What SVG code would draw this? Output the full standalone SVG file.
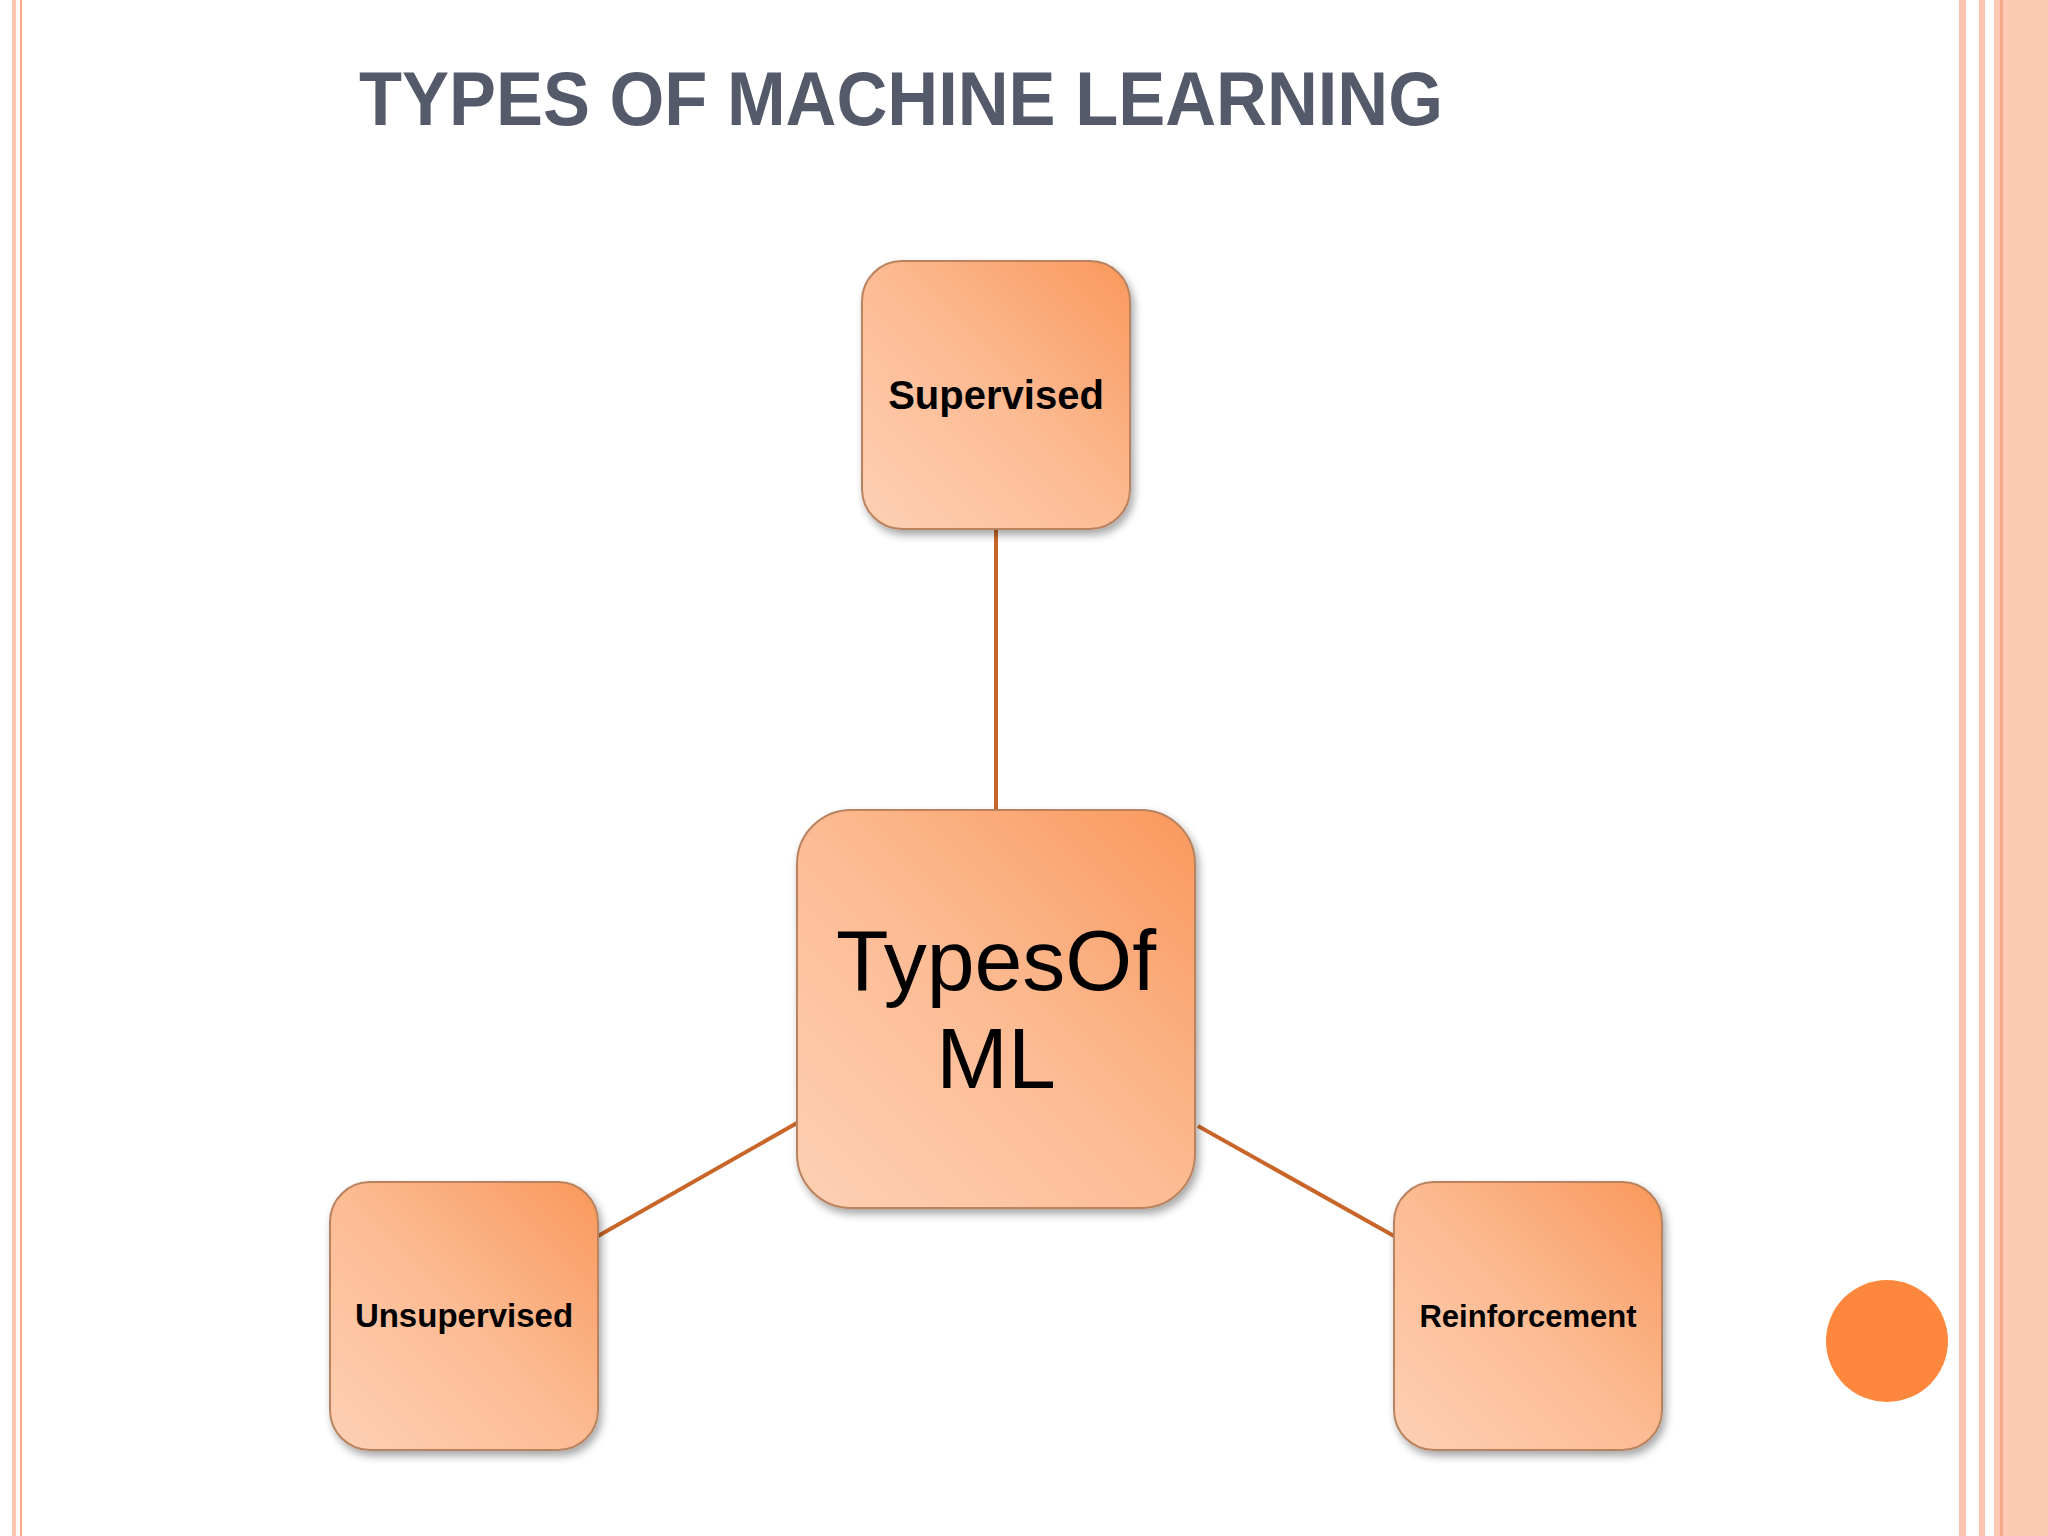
<svg xmlns="http://www.w3.org/2000/svg" width="2048" height="1536" viewBox="0 0 2048 1536">
<style>
.box{fill:url(#g);stroke:#b9835f;stroke-width:2;filter:url(#sh)}
.lbl{font-family:"Liberation Sans",Arial,sans-serif;font-weight:bold;fill:#000;text-anchor:middle}
.conn{stroke:#c8662a;stroke-width:4;fill:none}
</style>
<defs>
<linearGradient id="g" x1="0" y1="1" x2="1" y2="0">
<stop offset="0" stop-color="#fed0b4"/><stop offset="0.5" stop-color="#fcbb93"/><stop offset="1" stop-color="#f9985c"/>
</linearGradient>
<filter id="sh" x="-10%" y="-10%" width="125%" height="125%"><feDropShadow dx="3" dy="5" stdDeviation="4" flood-color="#000" flood-opacity="0.35"/></filter>
</defs>
<rect width="2048" height="1536" fill="#fff"/>
<rect x="12" y="0" width="4" height="1536" fill="#fbc4ae"/>
<rect x="20" y="0" width="2" height="1536" fill="#f8a88a"/>
<rect x="1959" y="0" width="7" height="1536" fill="#fbc4ae"/>
<rect x="1979" y="0" width="6" height="1536" fill="#fbc4ae"/>
<rect x="1994" y="0" width="54" height="1536" fill="#fcc9b2"/>
<rect x="2000" y="0" width="3" height="1536" fill="#f8a88a"/>
<text x="359" y="125" font-family="'Liberation Sans',Arial,sans-serif" font-size="76" font-weight="bold" fill="#545a6a" textLength="1084" lengthAdjust="spacingAndGlyphs">TYPES OF MACHINE LEARNING</text>
<g id="connectors">
<line class="conn" x1="996" y1="529" x2="996" y2="810"/>
<line class="conn" x1="598" y1="1236" x2="797" y2="1123"/>
<line class="conn" x1="1198" y1="1126" x2="1394" y2="1236"/>
</g>
<g id="supervised"><rect class="box" x="862" y="261" width="268" height="268" rx="40"/><text class="lbl" x="996" y="409" font-size="40">Supervised</text></g>
<g id="center"><rect class="box" x="797" y="810" width="398" height="398" rx="54"/>
<text x="996" y="990" font-family="'Liberation Sans',Arial,sans-serif" font-size="86" text-anchor="middle">TypesOf</text>
<text x="996" y="1088" font-family="'Liberation Sans',Arial,sans-serif" font-size="86" text-anchor="middle">ML</text></g>
<g id="unsupervised"><rect class="box" x="330" y="1182" width="268" height="268" rx="40"/><text class="lbl" x="464" y="1327" font-size="33">Unsupervised</text></g>
<g id="reinforcement"><rect class="box" x="1394" y="1182" width="268" height="268" rx="40"/><text class="lbl" x="1528" y="1327" font-size="31">Reinforcement</text></g>
<circle cx="1887" cy="1341" r="61" fill="#fd873c"/>
</svg>
